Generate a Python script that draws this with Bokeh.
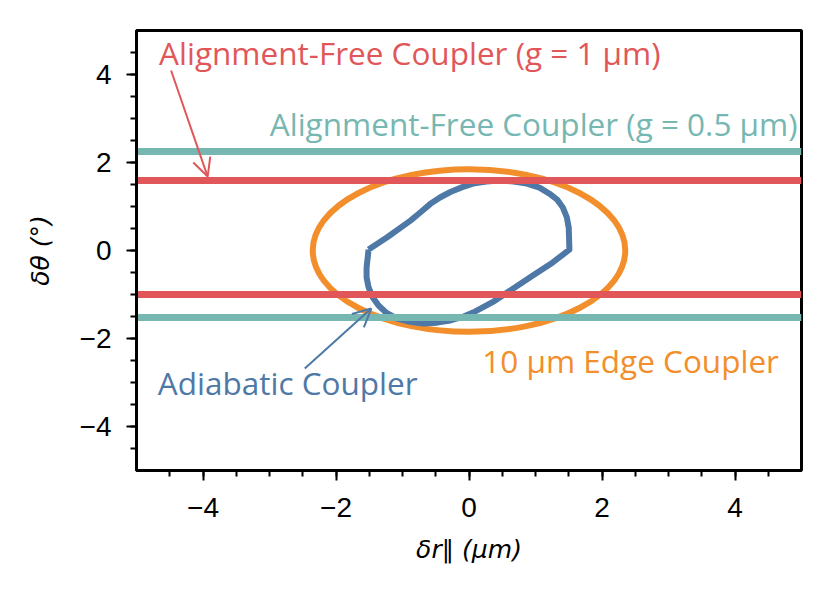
from bokeh.plotting import figure
from bokeh.models import Range1d, FixedTicker, Arrow, OpenHead
from bokeh.core.properties import value
from bokeh.embed import file_html
from bokeh.resources import INLINE

# ---- data ----
# horizontal tolerance limits (delta theta, degrees)
af_g05_limits = [2.25, -1.52]      # Alignment-Free Coupler (g = 0.5 um)
af_g1_limits = [1.59, -1.0]        # Alignment-Free Coupler (g = 1 um)

# 10 um edge coupler: ellipse (full widths)
edge_x = [0.0]
edge_y = [0.0]
edge_w = [4.7]
edge_h = [3.7]

# adiabatic coupler contour
adiab_x = [-1.51, -1.23, -0.88, -0.72, -0.58, -0.43, -0.28, -0.10, 0.06, 0.26, 0.46, 0.67, 0.87, 1.06,
           1.21, 1.33, 1.41, 1.47, 1.50, 1.51,
           1.26, 0.96, 0.66, 0.36, 0.20, 0.06, -0.10, -0.28, -0.48, -0.69, -0.89, -1.08, -1.24, -1.36,
           -1.45, -1.51, -1.54, -1.54, -1.51]
adiab_y = [0.02, 0.30, 0.68, 0.88, 1.06, 1.21, 1.33, 1.44, 1.52, 1.57, 1.59, 1.57, 1.52, 1.43,
           1.29, 1.15, 0.98, 0.76, 0.52, 0.02,
           -0.27, -0.57, -0.87, -1.17, -1.30, -1.41, -1.51, -1.59, -1.64, -1.66, -1.62, -1.55, -1.42, -1.25,
           -1.06, -0.84, -0.61, -0.39, 0.02]

x_ticks = [-4, -2, 0, 2, 4]
x_tick_labels = ["\u22124", "\u22122", "0", "2", "4"]
y_ticks = [-4, -2, 0, 2, 4]
y_tick_labels = ["\u22124", "\u22122", "0", "2", "4"]
minor_ticks = [-4.5, -4, -3.5, -3, -2.5, -2, -1.5, -1, -0.5, 0, 0.5, 1, 1.5, 2, 2.5, 3, 3.5, 4, 4.5]

label_af1 = "Alignment-Free Coupler (g = 1 \u03bcm)"
label_af05 = "Alignment-Free Coupler (g = 0.5 \u03bcm)"
label_edge = "10 \u03bcm Edge Coupler"
label_adiab = "Adiabatic Coupler"

TEAL = "#76B7B2"
RED = "#E15759"
ORANGE = "#F28E2B"
BLUE = "#4E79A7"

p = figure(width=814, height=582, output_backend="svg", toolbar_location=None,
           x_range=Range1d(-5, 5), y_range=Range1d(-5, 5),
           min_border_left=136, min_border_right=13, min_border_top=30, min_border_bottom=112)
p.grid.visible = False
p.outline_line_color = "black"
p.outline_line_width = 3
p.background_fill_color = "white"
p.border_fill_color = "white"

for ax, ticks, labels in ((p.xaxis[0], x_ticks, x_tick_labels), (p.yaxis[0], y_ticks, y_tick_labels)):
    ax.ticker = FixedTicker(ticks=ticks, minor_ticks=minor_ticks)
    ax.major_label_overrides = {t: l for t, l in zip(ticks, labels)}
    ax.major_label_text_font = "Liberation Sans"
    ax.major_label_text_font_size = "28px"
    ax.major_label_text_color = "black"
    ax.axis_line_width = 3
    ax.axis_line_color = "black"
    ax.major_tick_in = 0
    ax.major_tick_out = 10
    ax.minor_tick_in = 0
    ax.minor_tick_out = 6
    ax.major_tick_line_width = 2
    ax.minor_tick_line_width = 2
    ax.axis_label_text_font = "DejaVu Sans"
    ax.axis_label_text_font_style = "italic"
    ax.axis_label_text_font_size = "25px"
    ax.axis_label_text_color = "black"

p.xaxis.axis_label = "\u03b4r\u2225 (\u03bcm)"
p.yaxis.axis_label = "\u03b4\u03b8 (\u00b0)"
p.xaxis.major_label_standoff = 17
p.yaxis.major_label_standoff = 15
p.xaxis.axis_label_standoff = 15
p.yaxis.axis_label_standoff = 22

# ellipse (edge coupler)
p.ellipse(x=edge_x, y=edge_y, width=edge_w, height=edge_h, fill_color=None,
          line_color=ORANGE, line_width=6)
# adiabatic contour
p.line(adiab_x, adiab_y, line_color=BLUE, line_width=6, line_join="round")
# horizontal limits
p.hspan(y=af_g05_limits, line_color=TEAL, line_width=7)
p.hspan(y=af_g1_limits, line_color=RED, line_width=7)

# arrows
p.add_layout(Arrow(end=OpenHead(size=18, line_color=RED, line_width=2),
                   x_start=-4.48, y_start=4.09, x_end=-3.93, y_end=1.68,
                   line_color=RED, line_width=2))
p.add_layout(Arrow(end=OpenHead(size=18, line_color=BLUE, line_width=2),
                   x_start=-2.47, y_start=-2.68, x_end=-1.47, y_end=-1.32,
                   line_color=BLUE, line_width=2))

# labels
FONT = value("Open Sans")
FS = "31.5px"
p.text(x=[-4.66], y=[4.49], text=[label_af1], text_font=FONT, text_font_size=FS,
       text_color=RED, text_align="left", text_baseline="alphabetic")
p.text(x=[4.94], y=[2.88], text=[label_af05], text_font=FONT, text_font_size=FS,
       text_color=TEAL, text_align="right", text_baseline="alphabetic")
p.text(x=[0.20], y=[-2.51], text=[label_edge], text_font=FONT, text_font_size=FS,
       text_color=ORANGE, text_align="left", text_baseline="alphabetic")
p.text(x=[-4.68], y=[-3.0], text=[label_adiab], text_font=FONT, text_font_size=FS,
       text_color=BLUE, text_align="left", text_baseline="alphabetic")

open("out.html", "w").write(file_html(p, INLINE))
